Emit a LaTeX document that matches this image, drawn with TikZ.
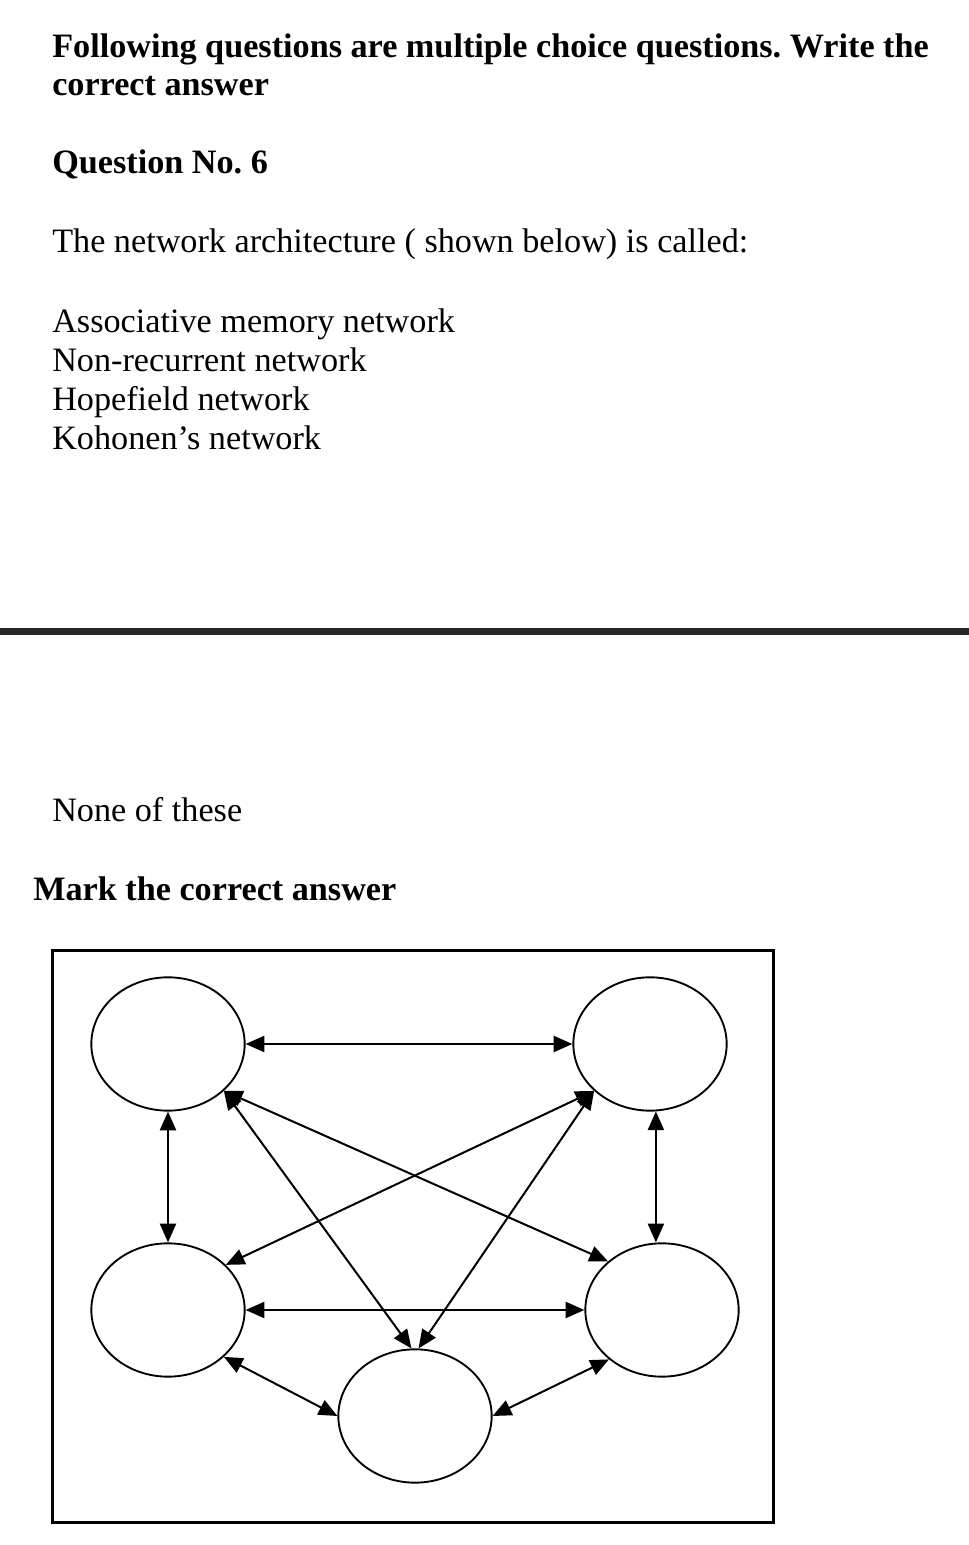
\documentclass[tikz,border=0pt]{standalone}
\usepackage{fontspec}
\setmainfont{Liberation Serif}
\usetikzlibrary{arrows.meta,shapes.geometric}
\frenchspacing

\begin{document}
\begin{tikzpicture}[x=0.75pt,y=0.75pt,
    txt/.style={anchor=base west,inner sep=0pt,font=\fontsize{25.65pt}{30pt}\selectfont},
    neuron/.style={draw,shape=ellipse,line width=1.4pt,minimum width=115pt,minimum height=100pt,inner sep=0pt},
    link/.style={line width=1.5pt,{Triangle[length=14pt,width=12pt]}-{Triangle[length=14pt,width=12pt]}}]
        \useasboundingbox (0,0) rectangle (969,1545);
        \draw (52,1487.7) node (H1) [txt] {\bfseries Following questions are multiple choice questions. Write the};
        \draw (H1.base west)++(down:38.7) node (H2) [txt] {\bfseries correct answer};
        \draw (H2.base west)++(down:78) node (Q) [txt] {\bfseries Question No. 6};
        \draw (Q.base west)++(down:79) node (S) [txt] {The network architecture ( shown below) is called:};
        \draw (S.base west)++(down:79.7) node (A1) [txt] {Associative memory network};
        \draw (A1.base west)++(down:39) node (A2) [txt] {Non-recurrent network};
        \draw (A2.base west)++(down:39) node (A3) [txt] {Hopefield network};
        \draw (A3.base west)++(down:39.3) node (A4) [txt] {Kohonen’s network};
        \draw[line width=5.25pt, color=black!85] (0,913.5) -- (969,913.5);
        \draw (52,723) node (A5) [txt] {None of these};
        \draw (33,644) node (M) [txt] {\bfseries Mark the correct answer};
        \draw[line width=2.25pt] (52.5,594.5) rectangle (773.5,22.5);
        % the five neurons
        \draw (168,501) node (TL) [neuron] {};
        \draw (TL)++(right:482) node (TR) [neuron] {};
        \draw (TL)++(down:266) node (ML) [neuron] {};
        \draw (ML)++(right:494) node (MR) [neuron] {};
        \draw (ML)++(247,-106) node (B) [neuron] {};
        % connections, all two-way
        \draw[link] (TL) -- (TR);
        \draw[link] (TL) -- (ML);
        \draw[link] (TR.-85) -- (TR.-85 |- MR.north);
        \draw[link] (ML) -- (MR);
        \draw[link] (TL.-40) -- (MR.138);
        \draw[link] (TR.-140) -- (ML.38);
        \draw[link] (TL.-40) -- (B.93);
        \draw[link] (TR.-140) -- (B.87);
        \draw[link] (ML.-40) -- (B.west);
        \draw[link] (MR.-137) -- (B.east);
    \end{tikzpicture}
\end{document}
